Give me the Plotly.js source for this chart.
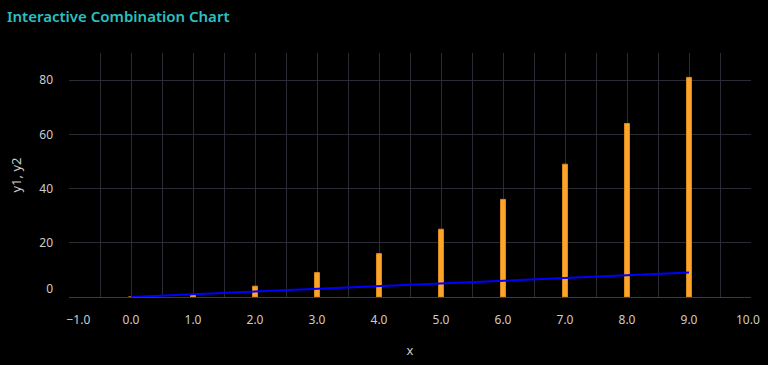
<!DOCTYPE html>
<html>
<head>
<meta charset="utf-8">
<script src="https://cdn.plot.ly/plotly-3.0.1.min.js"></script>
<style>html,body{margin:0;padding:0;background:#000;}#chart{width:768px;height:365px;}</style>
</head>
<body>
<div id="chart"></div>
<script>
// Data
const xValues = [0, 1, 2, 3, 4, 5, 6, 7, 8, 9];
const y1Values = [0, 1, 4, 9, 16, 25, 36, 49, 64, 81];   // bars
const y2Values = [0, 1, 2, 3, 4, 5, 6, 7, 8, 9];         // line
const xTickVals = [-1, 0, 1, 2, 3, 4, 5, 6, 7, 8, 9, 10];
const xTickText = ["\u00a0\u00a0\u00a0\u00a0\u00a0\u00a0\u22121.0", "0.0", "1.0", "2.0", "3.0", "4.0", "5.0", "6.0", "7.0", "8.0", "9.0", "10.0\u00a0\u00a0"];
const yTickVals = [0, 20, 40, 60, 80];
const yTickText = ["0<br>\u00a0", "20", "40", "60", "80"];

const font = "Noto Sans, Open Sans, sans-serif";
const gridColor = "#2b2b35";

const traces = [
  {
    type: "scatter", mode: "lines", name: "y2",
    x: xValues, y: y2Values,
    line: {color: "#0000ff", width: 2},
    hoverinfo: "x+y"
  },
  {
    type: "bar", name: "y1",
    x: xValues, y: y1Values,
    width: 0.08,
    marker: {color: "#ffa42b", line: {color: "#d98a1c", width: 1}}
  }
];

const layout = {
  width: 768, height: 365,
  paper_bgcolor: "#000", plot_bgcolor: "#000",
  showlegend: false,
  margin: {l: 69, r: 17, t: 53, b: 68, pad: 0},
  font: {family: font, color: "#cccccc", size: 12},
  title: {
    text: "Interactive Combination Chart",
    font: {family: font, size: 15, color: "#2bc0c0", weight: 600},
    xref: "container", yref: "container",
    x: 7/768, xanchor: "left", y: 1 - 17/365, yanchor: "middle"
  },
  xaxis: {
    range: [-1, 10], autorange: false,
    tickmode: "array", tickvals: xTickVals, ticktext: xTickText,
    showgrid: true, gridcolor: gridColor, gridwidth: 1,
    minor: {dtick: 0.5, tick0: 0, showgrid: true, gridcolor: gridColor, gridwidth: 1, ticks: ""},
    zeroline: false,
    showline: true, linecolor: "#3a3a44", linewidth: 1,
    ticks: "", ticklabelstandoff: 12, ticklabeloverflow: "allow",
    tickfont: {family: font, size: 12, color: "#cccccc"},
    title: {text: "x", font: {family: font, size: 13, color: "#cccccc"}, standoff: 18},
    automargin: false
  },
  yaxis: {
    range: [0, 90], autorange: false,
    tickmode: "array", tickvals: yTickVals, ticktext: yTickText,
    showgrid: true, gridcolor: gridColor, gridwidth: 1,
    zeroline: false, showline: false,
    ticks: "", ticklabelstandoff: 15, ticklabeloverflow: "allow",
    tickfont: {family: font, size: 12, color: "#cccccc"},
    title: {text: "y1, y2", font: {family: font, size: 13, color: "#cccccc"}, standoff: 14},
    automargin: false
  },
  hovermode: "closest"
};

Plotly.newPlot("chart", traces, layout, {displayModeBar: false, responsive: false});
</script>
</body>
</html>
